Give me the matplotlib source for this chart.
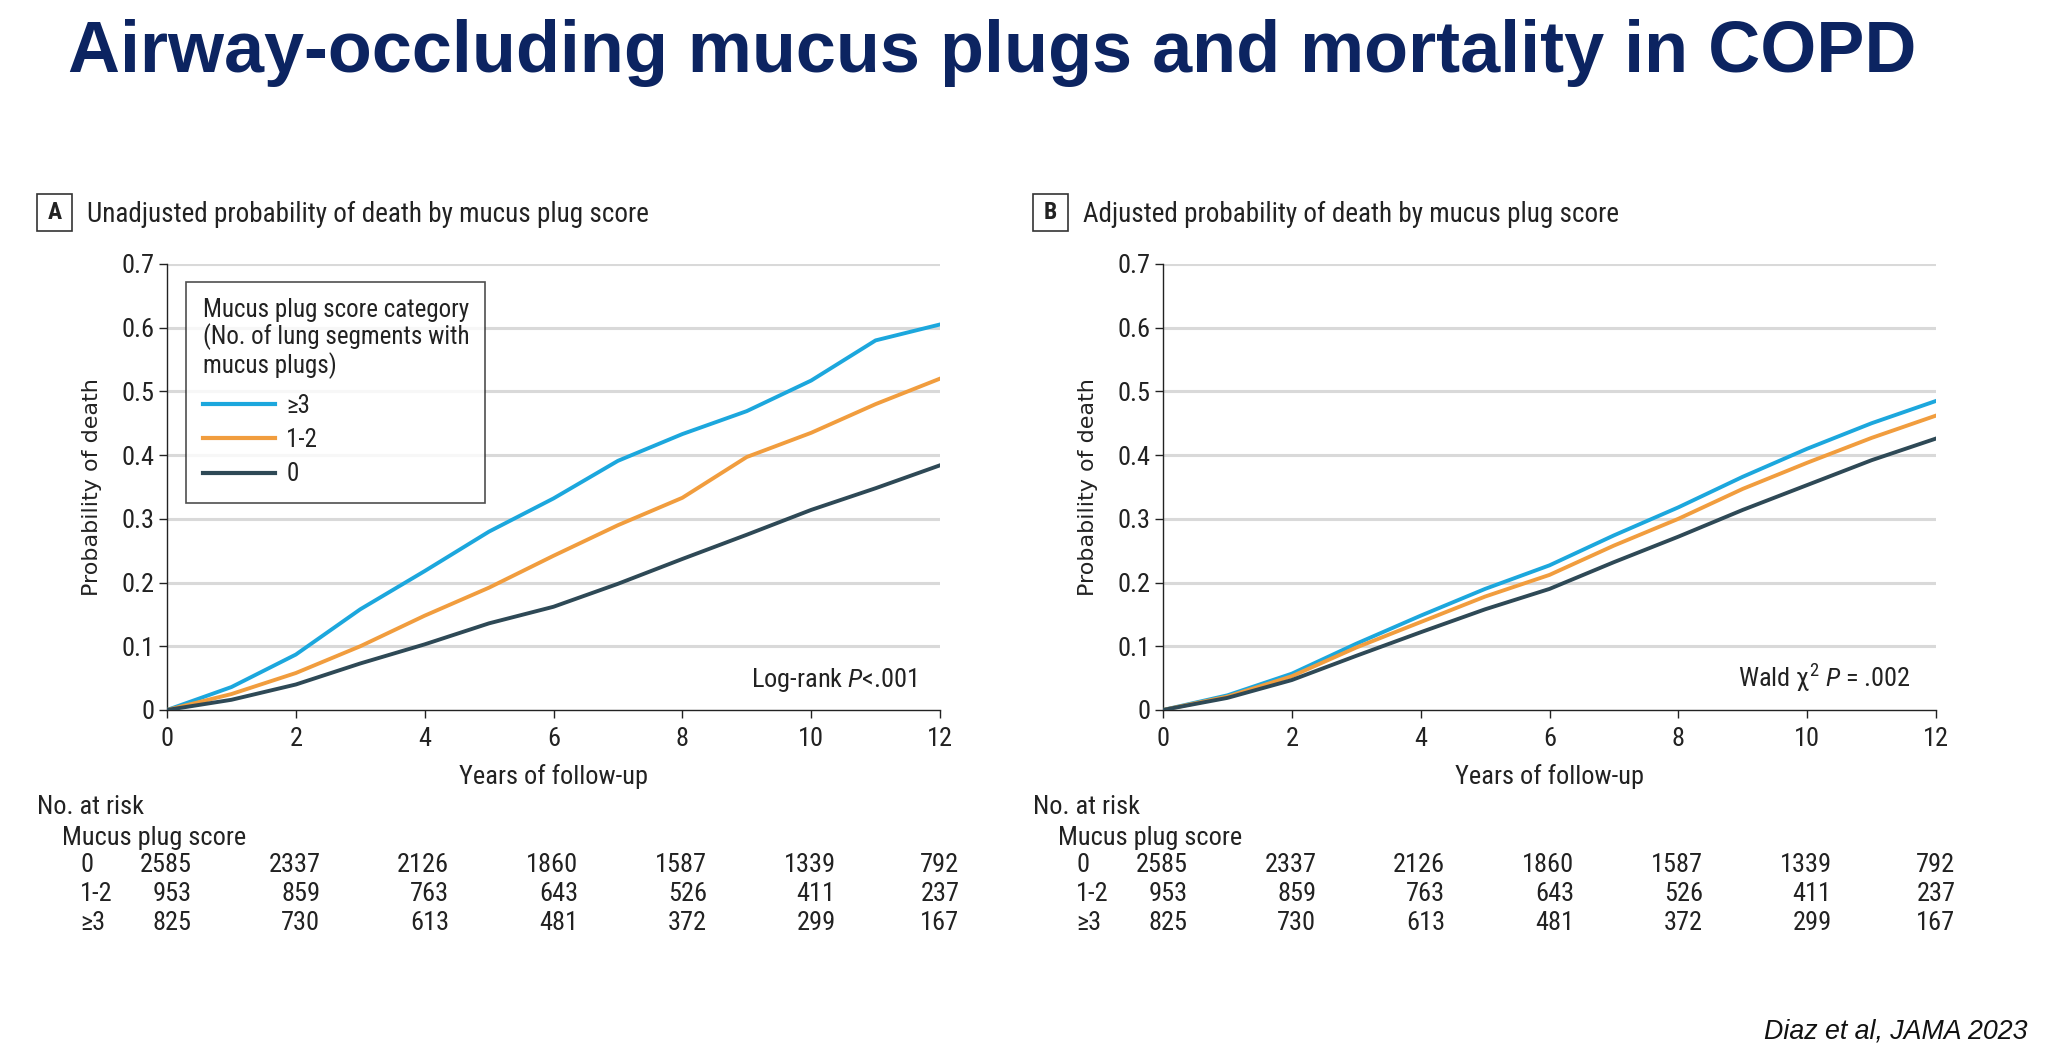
import matplotlib
matplotlib.use("Agg")
import matplotlib.pyplot as plt
from matplotlib import font_manager as fm
from matplotlib.patches import Rectangle
from matplotlib.transforms import blended_transform_factory

# pick a condensed face if one is installed
names = {f.name for f in fm.fontManager.ttflist}
cond = next((n for n in ["Roboto Condensed", "Liberation Sans Narrow", "Open Sans Condensed", "Roboto"]
             if n in names), "DejaVu Sans")
COND = [cond, "DejaVu Sans"]

plt.rcParams["font.family"] = COND
plt.rcParams["mathtext.fontset"] = "custom"
plt.rcParams["mathtext.rm"] = cond
plt.rcParams["mathtext.it"] = cond + ":italic"

# data
years = [0, 1, 2, 3, 4, 5, 6, 7, 8, 9, 10, 11, 12]
groups = ["≥3", "1-2", "0"]
colors = ["#1CA7DD", "#F19D3E", "#2E4956"]

unadj_ge3 = [0, 0.036, 0.087, 0.158, 0.218, 0.280, 0.332, 0.391, 0.433, 0.469, 0.517, 0.580, 0.605]
unadj_12 = [0, 0.025, 0.058, 0.100, 0.148, 0.192, 0.242, 0.290, 0.333, 0.397, 0.435, 0.480, 0.520]
unadj_0 = [0, 0.016, 0.040, 0.073, 0.103, 0.136, 0.162, 0.198, 0.237, 0.275, 0.314, 0.348, 0.384]

adj_ge3 = [0, 0.023, 0.057, 0.104, 0.148, 0.190, 0.227, 0.274, 0.318, 0.366, 0.410, 0.450, 0.485]
adj_12 = [0, 0.021, 0.053, 0.098, 0.138, 0.178, 0.212, 0.258, 0.300, 0.347, 0.388, 0.427, 0.462]
adj_0 = [0, 0.019, 0.047, 0.085, 0.122, 0.158, 0.190, 0.232, 0.272, 0.314, 0.353, 0.392, 0.426]

risk_years = [0, 2, 4, 6, 8, 10, 12]
risk_labels = ["0", "1-2", "≥3"]
risk_0 = [2585, 2337, 2126, 1860, 1587, 1339, 792]
risk_12 = [953, 859, 763, 643, 526, 411, 237]
risk_ge3 = [825, 730, 613, 481, 372, 299, 167]

yticks = [0, 0.1, 0.2, 0.3, 0.4, 0.5, 0.6, 0.7]
ytick_labels = ["0", "0.1", "0.2", "0.3", "0.4", "0.5", "0.6", "0.7"]
xticks = [0, 2, 4, 6, 8, 10, 12]

W, H = 2048, 1060
fig = plt.figure(figsize=(W / 100, H / 100), dpi=100)

fig.text(68 / W, 1 - 72 / H, "Airway-occluding mucus plugs and mortality in COPD",
         family="Liberation Sans", weight="bold", fontsize=51.8, color="#0C2461", va="baseline")
fig.text(2027 / W, 1 - 1038 / H, "Diaz et al, JAMA 2023", family="Liberation Sans",
         style="italic", fontsize=19.3, color="#111111", ha="right", va="baseline")

tick_fs = 19
ink = "#222222"


def panel(left_px, letter, title, series, note, note_x):
    ax = fig.add_axes([left_px / W, 0.3302, 773 / W, 0.4208])
    for vals, c, g in zip(series, colors, groups):
        ax.plot(years, vals, color=c, lw=2.8, label=g, solid_joinstyle="round", zorder=3)
    ax.set_xlim(0, 12)
    ax.set_ylim(0, 0.7)
    ax.set_xticks(xticks)
    ax.set_yticks(yticks)
    ax.set_yticklabels(ytick_labels)
    for y in yticks[1:]:
        ax.axhline(y, color="#D9D9D9", lw=2.2, zorder=1)
    for s in ["top", "right"]:
        ax.spines[s].set_visible(False)
    for s in ["left", "bottom"]:
        ax.spines[s].set_linewidth(1.0)
        ax.spines[s].set_color(ink)
    ax.tick_params(length=6, width=1.0, color=ink, labelsize=tick_fs, labelcolor=ink)
    ax.tick_params(axis="x", pad=6)
    ax.tick_params(axis="y", pad=3)
    ax.set_xlabel("Years of follow-up", fontsize=tick_fs, color=ink)
    ax.xaxis.set_label_coords(0.5, -0.150)
    ax.xaxis.label.set_va("center")
    ax.set_ylabel("Probability of death", family="DejaVu Sans", fontsize=16, color=ink)
    ax.yaxis.set_label_coords(-0.097, 0.5)
    ax.yaxis.label.set_va("center")
    ax.text(note_x, 0.052, note, transform=ax.transAxes, ha="right", va="baseline",
            fontsize=tick_fs, color=ink)

    # panel header
    bx = left_px - 130
    fig.add_artist(Rectangle((bx / W, 1 - 231 / H), 35 / W, 37 / H, transform=fig.transFigure,
                             fill=False, ec="#333333", lw=1.2))
    fig.text((bx + 17.5) / W, 1 - 212.5 / H, letter, ha="center", va="center",
             weight="bold", fontsize=17, color=ink)
    fig.text((bx + 50) / W, 1 - 222 / H, title, va="baseline", fontsize=19.5, color=ink)

    # number at risk table
    tx = left_px - 130
    fig.text(tx / W, 1 - 807 / H, "No. at risk", va="center", fontsize=tick_fs, color=ink)
    fig.text((tx + 25) / W, 1 - 838 / H, "Mucus plug score", va="center", fontsize=tick_fs,
             color=ink)
    tr = blended_transform_factory(ax.transData, fig.transFigure)
    for lab, row, ypx in zip(risk_labels, [risk_0, risk_12, risk_ge3], [865, 894, 923]):
        fig.text((tx + 43) / W, 1 - ypx / H, lab, va="center", fontsize=tick_fs, color=ink)
        for xv, n in zip(risk_years, row):
            off = 0.30 if xv == 12 else 0.38
            ax.text(xv + off, 1 - ypx / H, str(n), transform=tr, ha="right", va="center",
                    fontsize=tick_fs, color=ink, clip_on=False)
    return ax


axA = panel(167, "A", "Unadjusted probability of death by mucus plug score",
            [unadj_ge3, unadj_12, unadj_0], "Log-rank $P$<.001", 0.970)
panel(1163, "B", "Adjusted probability of death by mucus plug score",
      [adj_ge3, adj_12, adj_0], "Wald χ${}^2$ $P$ = .002", 0.967)

leg = axA.legend(title="Mucus plug score category\n(No. of lung segments with\nmucus plugs)",
                 loc="upper left", bbox_to_anchor=(0.025, 0.96), fontsize=18,
                 title_fontsize=18, frameon=True, fancybox=False, edgecolor=ink,
                 handlelength=2.9, handletextpad=0.45, labelspacing=0.41, borderpad=0.65,
                 alignment="left", borderaxespad=0)
leg._legend_box.sep = 0.41 * 18 + 3.5  # a little more room under the title
leg.get_frame().set_linewidth(1.2)
leg.get_title().set_color(ink)
leg.get_title().set_linespacing(1.07)
for t in leg.get_texts():
    t.set_color(ink)
for h in leg.legend_handles:
    h.set_linewidth(3.0)

fig.savefig("out.png", dpi=100, facecolor="white")
